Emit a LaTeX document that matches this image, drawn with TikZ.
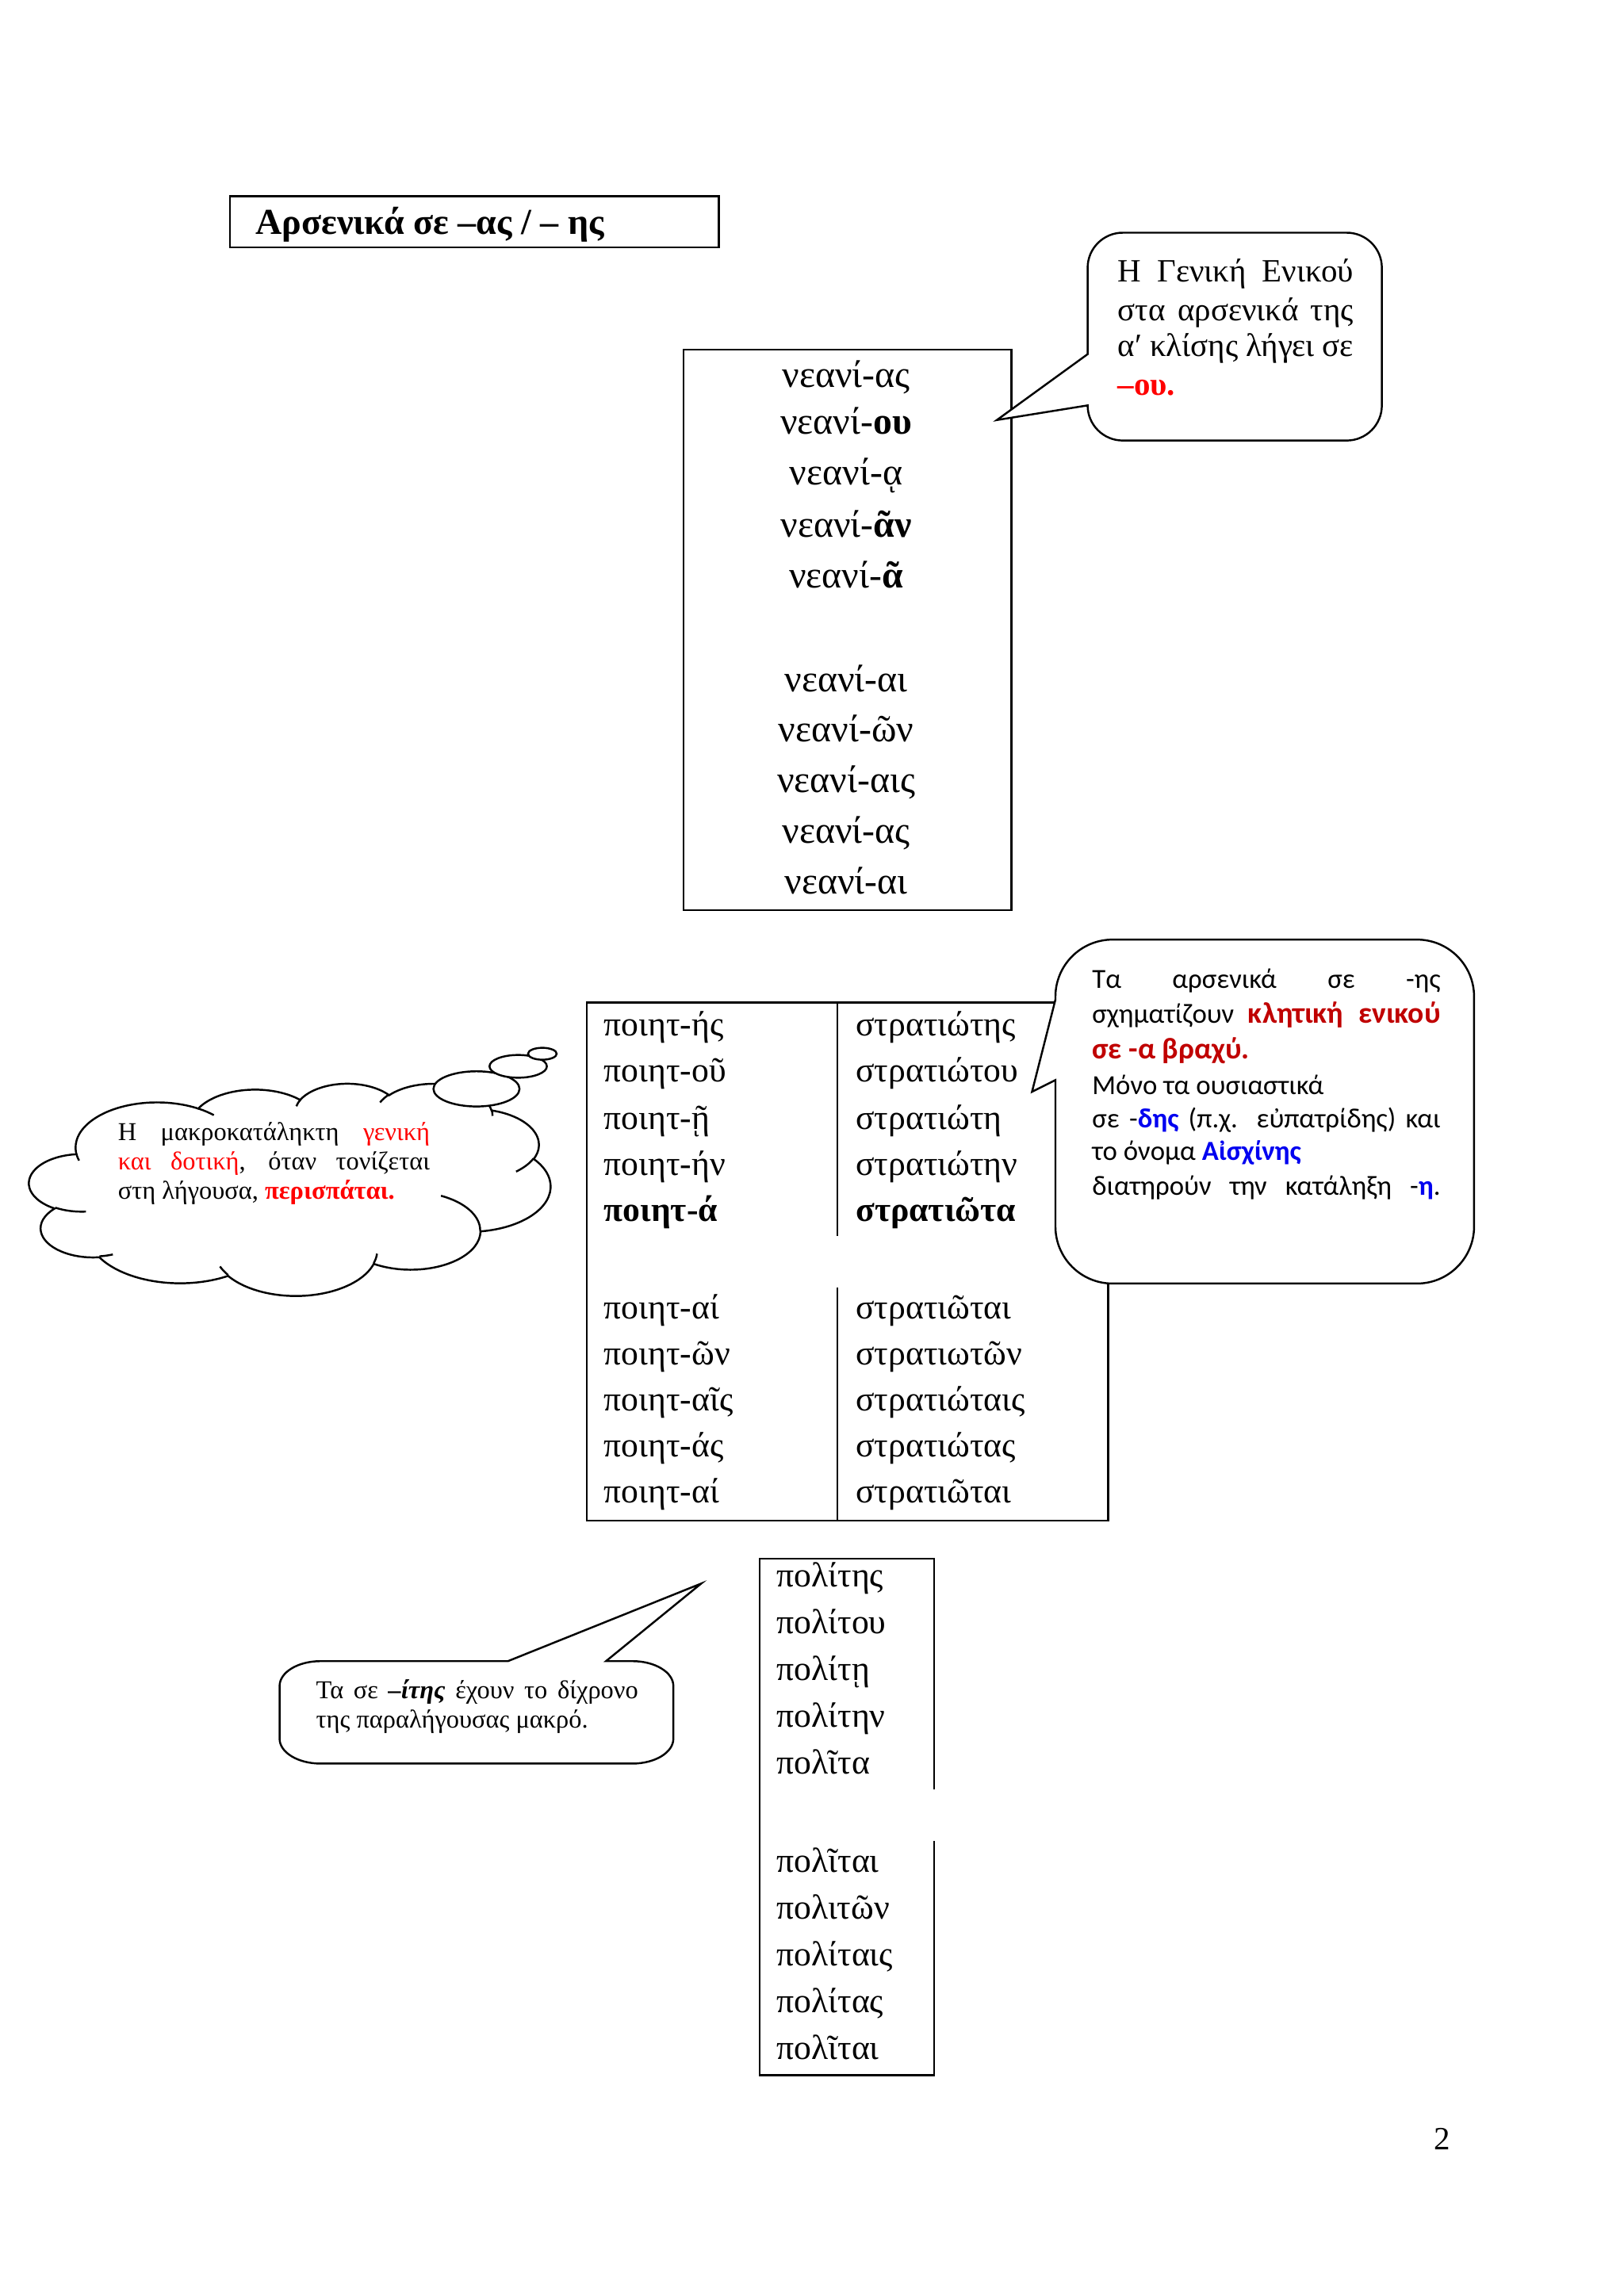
\documentclass[tikz,border=0pt]{standalone}
\usepackage{fontspec}
\setmainfont{Liberation Serif}
\newfontfamily\calfont{Carlito}
\definecolor{rd}{RGB}{255,0,0}
\definecolor{drd}{RGB}{192,0,0}
\definecolor{bl}{RGB}{0,0,240}
\newcommand{\jl}[2]{\makebox[#1][s]{#2}}
\newcommand{\bigred}[1]{\textcolor{drd}{\bfseries\fontsize{11}{12}\selectfont #1}}
\begin{document}
\begin{tikzpicture}[x=0.5409pt,y=-0.5409pt,line width=0.72pt,
  txt/.style={inner sep=0pt,anchor=base west},
  ctr/.style={inner sep=0pt,anchor=base},
  tabA/.style={ctr,font=\fontsize{14}{16}\selectfont},
  tabB/.style={txt,font=\fontsize{12.8}{15}\selectfont},
  c1/.style={txt,font=\fontsize{12}{14}\selectfont},
  c2/.style={txt,font=\calfont\fontsize{10.2}{12}\selectfont},
  cl/.style={txt,font=\fontsize{9.5}{11}\selectfont},
  bub/.style={draw,fill=white}]
\useasboundingbox[fill=white] (0,0) rectangle (1109.4,1568.8);

% title
\draw (157,134) rectangle (491,169);
\node[txt,font=\bfseries\fontsize{13.5}{15}\selectfont] (title) at (174,160) {Αρσενικά σε –ας / – ης};

% neani box
\draw (467,239) rectangle (691,622);
\node[tabA] (n1) at (578,264.6) {νεανί-ας};
\node[tabA] (n2) at (578,296.7) {νεανί-\textbf{ου}};
\node[tabA] (n3) at (578,331) {νεανί-ᾳ};
\node[tabA] (n4) at (578,367) {νεανί-\textbf{ᾶν}};
\node[tabA] (n5) at (578,401.5) {νεανί-\textbf{ᾶ}};
\node[tabA] (n6) at (578,472.5) {νεανί-αι};
\node[tabA] (n7) at (578,507) {νεανί-ῶν};
\node[tabA] (n8) at (578,541.6) {νεανί-αις};
\node[tabA] (n9) at (578,576) {νεανί-ας};
\node[tabA] (n10) at (578,610.6) {νεανί-αι};

% callout 1
\path[bub] (743,242) -- (681,287) -- (743,277)
  .. controls (743,290.25) and (753.75,301) .. (767,301)
  -- (920,301) .. controls (933.25,301) and (944,290.25) .. (944,277)
  -- (944,183) .. controls (944,169.75) and (933.25,159) .. (920,159)
  -- (767,159) .. controls (753.75,159) and (743,169.75) .. (743,183)
  -- cycle;
\node[c1] (a1) at (763,192.8) {\jl{87.1pt}{Η Γενική Ενικού}};
\node[c1] (a2) at (763,219.3) {\jl{87.1pt}{στα αρσενικά της}};
\node[c1] (a3) at (763,243.5) {\jl{87.1pt}{αʹ κλίσης λήγει σε}};
\node[c1] (a4) at (763,270) {\textcolor{rd}{\bfseries –ου.}};

% poiet table
\draw (401,685) rectangle (757,1039);
\draw (572,685) -- (572,844.5);
\draw (572,879.5) -- (572,1039);
\node[tabB] (p1) at (412,707.5) {ποιητ-ής};
\node[tabB] (p2) at (412,739) {ποιητ-οῦ};
\node[tabB] (p3) at (412,771.5) {ποιητ-ῇ};
\node[tabB] (p4) at (412,803) {ποιητ-ήν};
\node[tabB] (p5) at (412,834.6) {\bfseries ποιητ-ά};
\node[tabB] (p6) at (412,901) {ποιητ-αί};
\node[tabB] (p7) at (412,932.7) {ποιητ-ῶν};
\node[tabB] (p8) at (412,964) {ποιητ-αῖς};
\node[tabB] (p9) at (412,995.6) {ποιητ-άς};
\node[tabB] (p10) at (412,1027) {ποιητ-αί};
\node[tabB] (s1) at (584,707.5) {στρατιώτης};
\node[tabB] (s2) at (584,739) {στρατιώτου};
\node[tabB] (s3) at (584,771.5) {στρατιώτη};
\node[tabB] (s4) at (584,803) {στρατιώτην};
\node[tabB] (s5) at (584,834.6) {\bfseries στρατιῶτα};
\node[tabB] (s6) at (584,901) {στρατιῶται};
\node[tabB] (s7) at (584,932.7) {στρατιωτῶν};
\node[tabB] (s8) at (584,964) {στρατιώταις};
\node[tabB] (s9) at (584,995.6) {στρατιώτας};
\node[tabB] (s10) at (584,1027) {στρατιῶται};

% callout 2
\path[bub] (721,683) -- (705,746) -- (721,738) -- (721,838)
  .. controls (721,859.54) and (738.46,877) .. (760,877)
  -- (968,877) .. controls (989.54,877) and (1007,859.54) .. (1007,838)
  -- (1007,681) .. controls (1007,659.46) and (989.54,642) .. (968,642)
  -- (760,642) .. controls (738.46,642) and (721,659.46) .. (721,681)
  -- cycle;
\node[c2] (b1) at (745.5,675.5) {\jl{128.7pt}{Τα αρσενικά σε -ης}};
\node[c2] (b2) at (745.5,699) {\jl{128.7pt}{σχηματίζουν \bigred{κλητική ενικού}}};
\node[c2] (b3) at (745.5,723.4) {\bigred{σε -α βραχύ.}};
\node[c2] (b4) at (745.5,747.8) {Μόνο τα ουσιαστικά};
\node[c2] (b5) at (745.5,770.4) {\jl{128.7pt}{σε -\textcolor{bl}{\bfseries δης} (π.χ. εὐπατρίδης) και}};
\node[c2] (b6) at (745.5,793) {το όνομα \textcolor{bl}{\bfseries Αἰσχίνης}};
\node[c2] (b7) at (745.5,816.5) {\jl{128.7pt}{διατηρούν την κατάληξη -\textcolor{bl}{\bfseries η}.}};

% cloud
\begin{scope}[shift={(20,740)},xscale=0.8241,yscale=0.3356]
\path[bub] (39.00,143.70)
 arc[start angle=-187.74,end angle=-59.63,x radius=67.53,y radius=91.90]
 arc[start angle=-152.02,end angle=-45.45,x radius=53.33,y radius=72.67]
 arc[start angle=-153.49,end angle=-37.32,x radius=43.65,y radius=59.45]
 arc[start angle=-139.71,end angle=-10.21,x radius=48.57,y radius=65.95]
 arc[start angle=-74.77,end angle=23.21,x radius=53.33,y radius=72.73]
 arc[start angle=-37.53,end angle=81.86,x radius=67.75,y radius=92.20]
 arc[start angle=0.46,end angle=121.98,x radius=57.85,y radius=78.67]
 arc[start angle=16.85,end angle=146.25,x radius=67.52,y radius=92.15]
 arc[start angle=58.98,end angle=150.20,x radius=77.20,y radius=105.43]
 arc[start angle=-276.69,end angle=-136.91,x radius=43.60,y radius=59.18]
 arc[start angle=-239.64,end angle=-95.89,x radius=43.45,y radius=59.45]
 -- cycle;
\draw (46.93,261.77) arc[start angle=85.55,end angle=120.36,x radius=43.45,y radius=59.45];
\draw (69.28,348.99) arc[start angle=68.23,end angle=83.31,x radius=43.60,y radius=59.18];
\draw (164.78,390.90) arc[start angle=146.25,end angle=158.47,x radius=67.52,y radius=92.15];
\draw (288.27,347.51) arc[start angle=4.74,end angle=16.85,x radius=67.52,y radius=92.15];
\draw (341.29,229.54) arc[start angle=-64.03,end angle=0.46,x radius=57.85,y radius=78.67];
\draw (417.98,153.54) arc[start angle=23.21,end angle=49.64,x radius=53.33,y radius=72.73];
\draw (383.24,54.26) arc[start angle=-10.21,end angle=0.82,x radius=48.57,y radius=65.95];
\draw (290.78,39.52) arc[start angle=-156.29,end angle=-139.71,x radius=48.57,y radius=65.95];
\draw (221.41,47.20) arc[start angle=-167.73,end angle=-153.49,x radius=43.65,y radius=59.45];
\draw (140.00,51.92) arc[start angle=-59.63,end angle=-45.74,x radius=67.53,y radius=91.90];
\draw (41.27,157.89) arc[start angle=163.20,end angle=172.26,x radius=67.53,y radius=91.90];
\end{scope}
\path[bub] (325.5,744) ellipse [x radius=15.9pt,y radius=6.5pt];
\path[bub] (354,728.6) ellipse [x radius=10.6pt,y radius=4.2pt];
\path[bub] (370.5,720) ellipse [x radius=5.3pt,y radius=2.2pt];
\node[cl] (k1) at (80,779) {\jl{115.2pt}{Η μακροκατάληκτη \textcolor{rd}{γενική}}};
\node[cl] (k2) at (80,799.3) {\jl{115.2pt}{\textcolor{rd}{και δοτική}, όταν τονίζεται}};
\node[cl] (k3) at (80,819.4) {στη λήγουσα, \textcolor{rd}{\bfseries περισπάται.}};

% politis box
\draw (638,1222.5) -- (638,1065) -- (519,1065) -- (519,1418) -- (638,1418) -- (638,1258);
\node[tabB] (t1) at (530,1084) {πολίτης};
\node[tabB] (t2) at (530,1116) {πολίτου};
\node[tabB] (t3) at (530,1148) {πολίτῃ};
\node[tabB] (t4) at (530,1180) {πολίτην};
\node[tabB] (t5) at (530,1212) {πολῖτα};
\node[tabB] (t6) at (530,1279) {πολῖται};
\node[tabB] (t7) at (530,1311) {πολιτῶν};
\node[tabB] (t8) at (530,1343) {πολίταις};
\node[tabB] (t9) at (530,1375) {πολίτας};
\node[tabB] (t10) at (530,1407) {πολῖται};

% bottom callout
\path[bub] (347,1135) -- (479,1082) -- (414,1135) -- (432,1135)
  .. controls (447.46,1135) and (460,1142.61) .. (460,1152)
  -- (460,1188) .. controls (460,1197.39) and (447.46,1205) .. (432,1205)
  -- (219,1205) .. controls (203.54,1205) and (191,1197.39) .. (191,1188)
  -- (191,1152) .. controls (191,1142.61) and (203.54,1135) .. (219,1135)
  -- cycle;
\node[cl] (m1) at (215.3,1160.5) {\jl{119pt}{Τα σε \textbf{\textit{–ίτης}} έχουν το δίχρονο}};
\node[cl] (m2) at (215.3,1180.6) {της παραλήγουσας μακρό.};

% page number
\node[ctr,font=\fontsize{12}{14}\selectfont] (pg) at (985,1469) {2};
\end{tikzpicture}
\end{document}
